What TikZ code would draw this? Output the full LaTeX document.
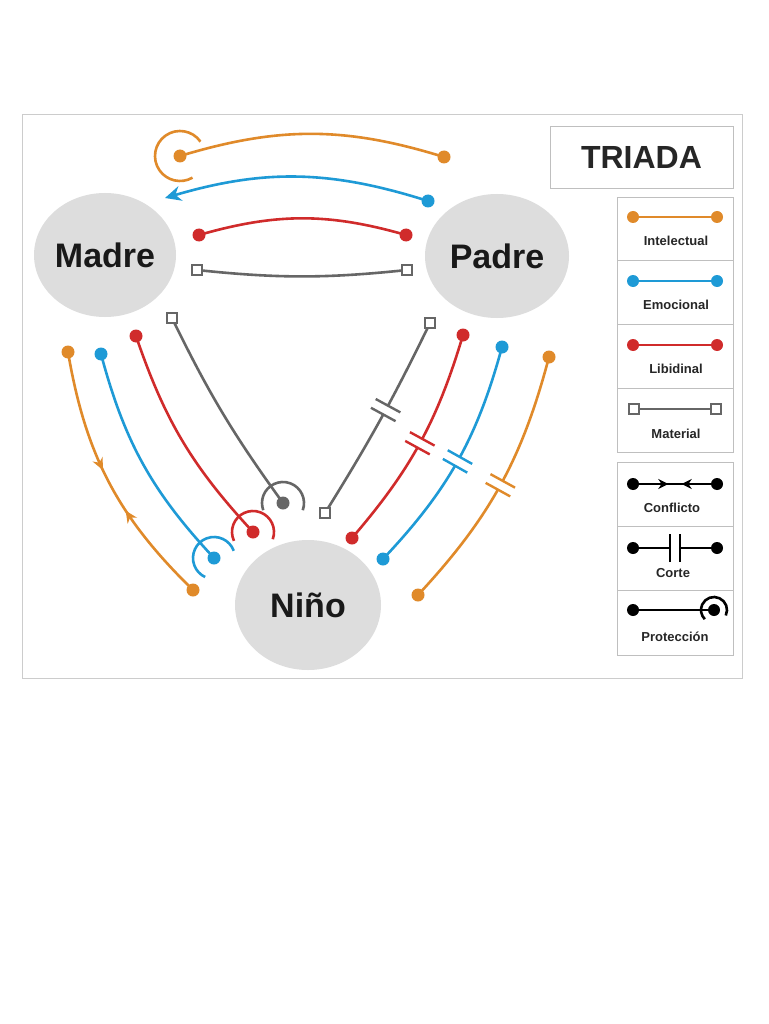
\documentclass[tikz,border=0pt]{standalone}
\usepackage{fontspec}
\setmainfont{Liberation Sans}
\usetikzlibrary{arrows.meta,decorations.markings,shapes.geometric}
\definecolor{cO}{HTML}{E08A2A}
\definecolor{cB}{HTML}{1E9AD6}
\definecolor{cR}{HTML}{D02B2B}
\definecolor{cG}{HTML}{666666}
\definecolor{cF}{HTML}{DDDDDD}
\tikzset{
 ln/.style={line width=2.6pt},
 circ/.style={ellipse, fill=cF, inner sep=0pt},
 big/.style={font=\fontsize{34}{34}\selectfont\bfseries, text=black!90},
 lbox/.style={draw=black!25, line width=0.8pt, fill=white},
 ltxt/.style={font=\fontsize{13}{13}\selectfont\bfseries, text=black!85},
 sqm/.style={draw=#1, line width=2pt, fill=white, minimum size=10pt, inner sep=0pt},
 corte/.style={postaction={decorate, decoration={markings, mark=at position #1 with {
   \fill[white] (-5,-5) rectangle (5,5);
   \draw[line width=2.4pt] (-5,-14) -- (-5,14);
   \draw[line width=2.4pt] (5,-14) -- (5,14);}}}},
 conf/.style={postaction={decorate, decoration={markings,
   mark=at position 0.45 with {\arrow{Stealth[length=12pt,width=11pt]}},
   mark=at position 0.62 with {\arrowreversed{Stealth[length=12pt,width=11pt]}}}}},
}
\begin{document}
\begin{tikzpicture}[x=1pt,y=1pt]
\useasboundingbox (0,0) rectangle (768,-1024);
\fill[white] (0,0) rectangle (768,-1024);
\draw[black!20, line width=1pt] (22,-115) rectangle (742,-678);
% main circles
\node[circ, minimum width=142pt, minimum height=124pt, big] (madre) at (105,-255) {Madre};
\node[circ, minimum width=144pt, minimum height=124pt, big] (padre) at (497,-256) {Padre};
\node[circ, minimum width=146pt, minimum height=130pt, big] (nino) at (308,-605) {Niño};
% title
\node[draw=black!25, line width=0.8pt, minimum width=183pt, minimum height=62pt, font=\fontsize{32}{32}\selectfont\bfseries, text=black!85] (title) at (641.5,-157) {TRIADA};
% top connectors
\coordinate (o1) at (180,-156); \coordinate (o2) at (444,-157);
\coordinate (b1) at (428,-201); \coordinate (b2) at (165,-198);
\coordinate (r1) at (199,-235); \coordinate (r2) at (406,-235);
\coordinate (g1) at (197,-270); \coordinate (g2) at (407,-270);
\draw[ln, cO] (o1) to[bend left=17] (o2);
\fill[cO] (o1) circle (6.5pt) (o2) circle (6.5pt);
\draw[ln, cO] (o1) ++(35:25) arc[start angle=35, end angle=300, radius=25];
\draw[ln, cB, -{Stealth[length=16pt,width=15pt]}] (b1) to[bend right=17] (b2);
\fill[cB] (b1) circle (6.5pt);
\draw[ln, cR] (r1) to[bend left=16] (r2);
\fill[cR] (r1) circle (6.5pt) (r2) circle (6.5pt);
\draw[ln, cG] (g1) to[bend right=6] (g2);
\node[sqm=cG] at (g1) {}; \node[sqm=cG] at (g2) {};
% left connectors (Madre - Niño)
\coordinate (lo1) at (68,-352); \coordinate (lo2) at (193,-590);
\coordinate (lb1) at (101,-354); \coordinate (lb2) at (214,-558);
\coordinate (lr1) at (136,-336); \coordinate (lr2) at (253,-532);
\coordinate (lg1) at (172,-318); \coordinate (lg2) at (283,-503);
\draw[ln, cO, conf] (lo1) to[bend right=18] (lo2);
\fill[cO] (lo1) circle (6.5pt) (lo2) circle (6.5pt);
\draw[ln, cB] (lb1) to[bend right=14] (lb2);
\fill[cB] (lb1) circle (6.5pt) (lb2) circle (6.5pt);
\draw[ln, cB] (lb2) ++(20:21) arc[start angle=20, end angle=245, radius=21];
\draw[ln, cR] (lr1) to[bend right=12] (lr2);
\fill[cR] (lr1) circle (6.5pt) (lr2) circle (6.5pt);
\draw[ln, cR] (lr2) ++(-20:21) arc[start angle=-20, end angle=205, radius=21];
\draw[ln, cG] (lg1) to[bend right=5] (lg2);
\fill[cG] (lg2) circle (6.5pt);
\node[sqm=cG] at (lg1) {};
\draw[ln, cG] (lg2) ++(-20:21) arc[start angle=-20, end angle=200, radius=21];
% right connectors (Padre - Niño)
\coordinate (rg1) at (430,-323); \coordinate (rg2) at (325,-513);
\coordinate (rr1) at (463,-335); \coordinate (rr2) at (352,-538);
\coordinate (rb1) at (502,-347); \coordinate (rb2) at (383,-559);
\coordinate (ro1) at (549,-357); \coordinate (ro2) at (418,-595);
\draw[ln, cG, corte=0.45] (rg1) to[bend left=3] (rg2);
\node[sqm=cG] at (rg1) {}; \node[sqm=cG] at (rg2) {};
\draw[ln, cR, corte=0.5] (rr1) to[bend left=12] (rr2);
\fill[cR] (rr1) circle (6.5pt) (rr2) circle (6.5pt);
\draw[ln, cB, corte=0.5] (rb1) to[bend left=14] (rb2);
\fill[cB] (rb1) circle (6.5pt) (rb2) circle (6.5pt);
\draw[ln, cO, corte=0.5] (ro1) to[bend left=14] (ro2);
\fill[cO] (ro1) circle (6.5pt) (ro2) circle (6.5pt);
% legend
\foreach \t/\b in {197/260,260/324,324/388,388/452,462/526,526/590,590/655}
  \draw[lbox] (617,-\t) rectangle (733,-\b);
\coordinate (a1) at (633,-217); \coordinate (a2) at (717,-217);
\draw[ln, cO] (a1) -- (a2); \fill[cO] (a1) circle (6pt) (a2) circle (6pt);
\node[ltxt] (la) at (676,-241) {Intelectual};
\coordinate (e1) at (633,-281); \coordinate (e2) at (717,-281);
\draw[ln, cB] (e1) -- (e2); \fill[cB] (e1) circle (6pt) (e2) circle (6pt);
\node[ltxt] (le) at (676,-305) {Emocional};
\coordinate (i1) at (633,-345); \coordinate (i2) at (717,-345);
\draw[ln, cR] (i1) -- (i2); \fill[cR] (i1) circle (6pt) (i2) circle (6pt);
\node[ltxt] (li) at (676,-369) {Libidinal};
\coordinate (m1) at (634,-409); \coordinate (m2) at (716,-409);
\draw[ln, cG] (m1) -- (m2); \node[sqm=cG] at (m1) {}; \node[sqm=cG] at (m2) {};
\node[ltxt] (lm) at (676,-434) {Material};
\coordinate (c1) at (633,-484); \coordinate (c2) at (717,-484);
\draw[ln, black, postaction={decorate, decoration={markings,
   mark=at position 0.42 with {\arrow{Stealth[length=10pt,width=10pt]}},
   mark=at position 0.58 with {\arrowreversed{Stealth[length=10pt,width=10pt]}}}}] (c1) -- (c2);
\fill (c1) circle (6pt) (c2) circle (6pt);
\node[ltxt] (lc) at (672,-508) {Conflicto};
\coordinate (k1) at (633,-548); \coordinate (k2) at (717,-548);
\draw[ln, black, corte=0.5] (k1) -- (k2);
\fill (k1) circle (6pt) (k2) circle (6pt);
\node[ltxt] (lk) at (673,-573) {Corte};
\coordinate (p1) at (633,-610); \coordinate (p2) at (714,-610);
\draw[ln, black] (p1) -- (p2);
\fill (p1) circle (6pt) (p2) circle (6pt);
\draw[ln, black] (p2) ++(-25:13) arc[start angle=-25, end angle=225, radius=13];
\node[ltxt] (lp) at (675,-637) {Protección};
\end{tikzpicture}
\end{document}
